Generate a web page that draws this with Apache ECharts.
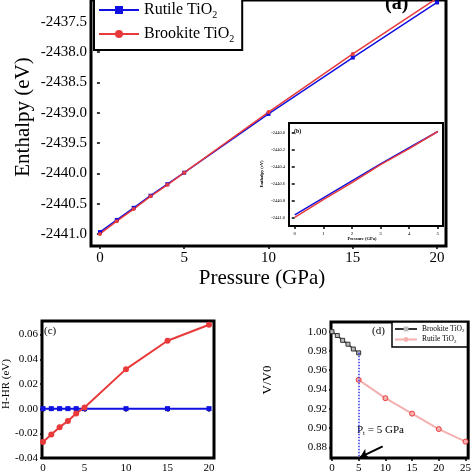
<!DOCTYPE html><html><head><meta charset="utf-8"><script src="https://cdn.jsdelivr.net/npm/echarts@6/dist/echarts.min.js"></script></head><body style="margin:0"><div id="c" style="width:474px;height:474px"></div><script>
const pressure=[0,1,2,3,4,5,10,15,20];
const rutileH=[-2440.97,-2440.77,-2440.57,-2440.37,-2440.18,-2439.99,-2439.02,-2438.09,-2437.18];
const brookiteH=[-2441.0,-2440.79,-2440.59,-2440.38,-2440.19,-2439.99,-2438.99,-2438.03,-2437.11];
const insetP=[0,1,2,3,4,5];
const dH=[-0.027,-0.021,-0.015,-0.010,-0.004,0.001,0.032,0.055,0.068];
const brookP=[0,1,2,3,4,5];
const brookV=[1.0,0.996,0.991,0.987,0.982,0.978];
const rutP=[5,10,15,20,25];
const rutV=[0.95,0.931,0.915,0.899,0.886];
const mainYTicks=[-2441,-2440.5,-2440,-2439.5,-2439,-2438.5,-2438,-2437.5];
const insetYTicks=[-2441,-2440.8,-2440.6,-2440.4,-2440.2,-2440];
const cYTicks=[-0.04,-0.02,0,0.02,0.04,0.06];
const dYTicks=[0.88,0.9,0.92,0.94,0.96,0.98,1.0];
const F='Liberation Serif';
const z=(a,b)=>a.map((v,i)=>[v,b[i]]);
const bx={show:true,borderColor:'#000',borderWidth:3};
function xa(i,min,max,interval,fs,ticks){return {gridIndex:i,type:'value',min,max,splitLine:{show:false},axisLine:{show:false},axisTick:{show:true,length:3,lineStyle:{color:'#000',width:1.5},customValues:ticks},axisLabel:{color:'#000',fontFamily:F,fontSize:fs,margin:5,customValues:ticks}};}
function ya(i,min,max,ticks,fs,fmt){return {gridIndex:i,type:'value',min,max,splitLine:{show:false},axisLine:{show:false},axisTick:{show:true,length:3,lineStyle:{color:'#000',width:1.5},customValues:ticks},axisLabel:{color:'#000',fontFamily:F,fontSize:fs,margin:4,customValues:ticks,formatter:fmt}};}
const sub=n=>'{a|'+n.trim().replace(/2$/,'')+'}{s|2}';
const ch=echarts.init(document.getElementById('c'));
ch.setOption({animation:false,
grid:[{left:91,top:-10,width:355,height:256,...bx},{left:289,top:123,width:154,height:103,...bx,borderWidth:2,backgroundColor:'#fff'},{left:42,top:321,width:172,height:141,...bx},{left:331,top:322,width:142,height:140,...bx}],
xAxis:[xa(0,-0.53,20.53,null,15,[0,5,10,15,20]),xa(1,-0.2,5.18,null,5,[0,1,2,3,4,5]),xa(2,-0.12,20.6,null,11,[0,5,10,15,20]),xa(3,-0.18,25.5,null,11,[0,5,10,15,20,25])],
yAxis:[ya(0,-2441.2,-2437.14,mainYTicks,15,v=>v.toFixed(1)),ya(1,-2441.1,-2439.89,insetYTicks,4.5,v=>v.toFixed(1)),ya(2,-0.04,0.071,cYTicks,11,v=>v.toFixed(2)),ya(3,0.869,1.01,dYTicks,11,v=>v.toFixed(2))],
legend:[{data:['Rutile TiO2','Brookite TiO2'],left:94,top:-6,orient:'vertical',itemGap:6,itemWidth:40,itemHeight:10,padding:[8,8,6,4],borderColor:'#000',borderWidth:2,backgroundColor:'#fff',formatter:sub,textStyle:{rich:{a:{fontFamily:F,fontSize:16,color:'#000'},s:{fontFamily:F,fontSize:10,color:'#000',padding:[10,0,0,0]}}}},
{data:['Brookite TiO2 ','Rutile TiO2 '],left:392,top:322,orient:'vertical',itemGap:2,itemWidth:22,itemHeight:6,padding:[3,3,3,2],borderColor:'#000',borderWidth:1.5,backgroundColor:'#fff',formatter:sub,textStyle:{rich:{a:{fontFamily:F,fontSize:7.5,color:'#000'},s:{fontFamily:F,fontSize:5,color:'#000',padding:[4,0,0,0]}}}}],
series:[
{name:'Rutile TiO2',type:'line',xAxisIndex:0,yAxisIndex:0,data:z(pressure,rutileH),color:'#1010e0',symbol:'rect',symbolSize:4,lineStyle:{width:1.5}},
{name:'Brookite TiO2',type:'line',xAxisIndex:0,yAxisIndex:0,data:z(pressure,brookiteH),color:'#e83a3a',symbol:'circle',symbolSize:4,lineStyle:{width:1.5}},
{type:'line',xAxisIndex:1,yAxisIndex:1,data:z(insetP,rutileH.slice(0,6)),color:'#1010e0',symbol:'none',lineStyle:{width:1.5}},
{type:'line',xAxisIndex:1,yAxisIndex:1,data:z(insetP,brookiteH.slice(0,6)),color:'#e83a3a',symbol:'none',lineStyle:{width:1.5}},
{type:'line',xAxisIndex:2,yAxisIndex:2,data:pressure.map(p=>[p,0]),color:'#1010e0',symbol:'rect',symbolSize:5,lineStyle:{width:2}},
{type:'line',xAxisIndex:2,yAxisIndex:2,data:z(pressure,dH),color:'#e83a3a',symbol:'circle',symbolSize:6,lineStyle:{width:2}},
{name:'Brookite TiO2 ',type:'line',xAxisIndex:3,yAxisIndex:3,data:z(brookP,brookV),color:'#333',symbol:'rect',symbolSize:4,itemStyle:{color:'#bbb',borderColor:'#333'},lineStyle:{width:1.5,color:'#333'},
 markLine:{silent:true,symbol:'none',lineStyle:{type:'dotted',color:'#3333ee',width:1.5},label:{show:false},data:[[{coord:[5,0.978]},{coord:[5,0.869]}]]}},
{name:'Rutile TiO2 ',type:'line',xAxisIndex:3,yAxisIndex:3,data:z(rutP,rutV),color:'#e83a3a',symbol:'circle',symbolSize:5,itemStyle:{color:'#f5b0b0',borderColor:'#e83a3a'},lineStyle:{width:2},
 markLine:{silent:true,symbol:['none','arrow'],symbolSize:8,lineStyle:{type:'solid',color:'#000',width:2},label:{show:false},data:[[{coord:[9.5,0.881]},{coord:[5.3,0.870]}]]}}
],
graphic:[
{type:'text',left:385,top:-6,style:{text:'(a)',fontFamily:F,fontWeight:'bold',fontSize:20,fill:'#000'}},
{type:'text',left:294,top:128,style:{text:'(b)',fontFamily:F,fontWeight:'bold',fontSize:6,fill:'#000'}},
{type:'text',left:44,top:326,style:{text:'(c)',fontFamily:F,fontSize:11,fill:'#000'}},
{type:'text',left:372,top:326,style:{text:'(d)',fontFamily:F,fontSize:11,fill:'#000'}},
{type:'text',left:357,top:425,style:{rich:{a:{fontFamily:F,fontSize:11,fill:'#000'},s:{fontFamily:F,fontSize:7,fill:'#000',padding:[6,0,0,0]}},text:'{a|P}{s|t}{a| = 5 GPa}'}},
{type:'text',x:262,y:278,style:{text:'Pressure (GPa)',fontFamily:F,fontSize:21,fill:'#000',align:'center',verticalAlign:'middle'}},
{type:'text',x:23,y:117,rotation:Math.PI/2,style:{text:'Enthalpy (eV)',fontFamily:F,fontSize:21,fill:'#000',align:'center',verticalAlign:'middle'}},
{type:'text',x:362,y:239,style:{text:'Pressure (GPa)',fontFamily:F,fontWeight:'bold',fontSize:4.5,fill:'#000',align:'center',verticalAlign:'middle'}},
{type:'text',x:262,y:174,rotation:Math.PI/2,style:{text:'Enthalpy (eV)',fontFamily:F,fontWeight:'bold',fontSize:4.5,fill:'#000',align:'center',verticalAlign:'middle'}},
{type:'text',x:6,y:384,rotation:Math.PI/2,style:{text:'H-HR (eV)',fontFamily:F,fontSize:11,fill:'#000',align:'center',verticalAlign:'middle'}},
{type:'text',x:268,y:380,rotation:Math.PI/2,style:{text:'V/V0',fontFamily:F,fontSize:13,fill:'#000',align:'center',verticalAlign:'middle'}}
]});
</script></body></html>
